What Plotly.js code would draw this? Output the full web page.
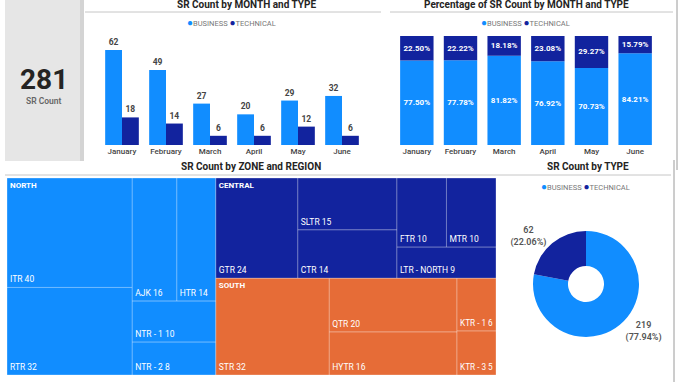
<!DOCTYPE html>
<html>
<head>
<meta charset="utf-8">
<script src="https://cdn.plot.ly/plotly-3.0.1.min.js"></script>
<style>html,body{margin:0;padding:0;background:#fff;}#chart{width:680px;height:382px;}</style>
</head>
<body>
<div id="chart"></div>
<script>
// ---- data ----
const months = ['January', 'February', 'March', 'April', 'May', 'June'];
const businessCounts = [62, 49, 27, 20, 29, 32];
const technicalCounts = [18, 14, 6, 6, 12, 6];
const businessPct = [77.50, 77.78, 81.82, 76.92, 70.73, 84.21];
const technicalPct = [22.50, 22.22, 18.18, 23.08, 29.27, 15.79];
const typeNames = ['BUSINESS', 'TECHNICAL'];
const typeTotals = [219, 62];
const srTotal = 281;
const zones = ['NORTH', 'CENTRAL', 'SOUTH'];
const regions = ['ITR', 'RTR', 'AJK', 'HTR', 'NTR - 1', 'NTR - 2',
                 'GTR', 'SLTR', 'CTR', 'FTR', 'MTR', 'LTR - NORTH',
                 'STR', 'QTR', 'HYTR', 'KTR - 1', 'KTR - 3'];
const regionZones = ['NORTH', 'NORTH', 'NORTH', 'NORTH', 'NORTH', 'NORTH',
                     'CENTRAL', 'CENTRAL', 'CENTRAL', 'CENTRAL', 'CENTRAL', 'CENTRAL',
                     'SOUTH', 'SOUTH', 'SOUTH', 'SOUTH', 'SOUTH'];
const regionCounts = [40, 32, 16, 14, 10, 8, 24, 15, 14, 10, 10, 9, 32, 20, 16, 6, 5];

// ---- style ----
const typeColors = ['#118DFF', '#12239E'];
const zoneColors = {NORTH: '#118DFF', CENTRAL: '#12239E', SOUTH: '#E66C37'};
const FONT = 'Roboto, "Open Sans", sans-serif';
const W = 680, H = 382;
const px = x => x / W;
const py = y => 1 - y / H;

// ---- treemap arrays ----
const tmIds = [], tmLabels = [], tmParents = [], tmValues = [], tmColors = [], tmTemplates = [];
zones.forEach(z => {
  tmIds.push(z); tmLabels.push(z); tmParents.push(''); tmValues.push(0);
  tmColors.push(zoneColors[z]); tmTemplates.push('');
});
regions.forEach((r, i) => {
  tmIds.push(regionZones[i] + '/' + r); tmLabels.push(r); tmParents.push(regionZones[i]);
  tmValues.push(regionCounts[i]); tmColors.push(zoneColors[regionZones[i]]);
  tmTemplates.push('%{label} %{value}');
});
const zoneTotals = zones.map(z => regionCounts.reduce((s, v, i) => s + (regionZones[i] === z ? v : 0), 0));

const traces = [
  {type: 'bar', x: months, y: businessCounts, name: typeNames[0], xaxis: 'x', yaxis: 'y',
   offsetgroup: 'b', marker: {color: typeColors[0]}, texttemplate: '%{y}', textposition: 'outside',
   textfont: {family: FONT, size: 8.5, color: '#444', weight: 700}, cliponaxis: false, showlegend: false},
  {type: 'bar', x: months, y: technicalCounts, name: typeNames[1], xaxis: 'x', yaxis: 'y',
   offsetgroup: 't', marker: {color: typeColors[1]}, texttemplate: '%{y}', textposition: 'outside',
   textfont: {family: FONT, size: 8.5, color: '#444', weight: 700}, cliponaxis: false, showlegend: false},
  {type: 'bar', x: months, y: businessPct, name: typeNames[0], xaxis: 'x2', yaxis: 'y2',
   offsetgroup: 'p', marker: {color: typeColors[0]}, texttemplate: '%{y:.2f}%', textposition: 'inside',
   insidetextanchor: 'middle', textangle: 0,
   textfont: {family: FONT, size: 8, color: '#ffffff', weight: 700}, showlegend: false},
  {type: 'bar', x: months, y: technicalPct, base: businessPct, name: typeNames[1], xaxis: 'x2', yaxis: 'y2',
   offsetgroup: 'p', marker: {color: typeColors[1]}, texttemplate: '%{y:.2f}%', textposition: 'inside',
   insidetextanchor: 'middle', textangle: 0,
   textfont: {family: FONT, size: 8, color: '#ffffff', weight: 700}, showlegend: false},
  {type: 'treemap', ids: tmIds, labels: tmLabels, parents: tmParents, values: tmValues,
   domain: {x: [px(7), px(496)], y: [py(375), py(178)]},
   marker: {colors: tmColors, pad: {t: 0, l: 0, r: 0, b: 0}, line: {color: 'rgba(255,255,255,0.3)', width: 1}},
   tiling: {squarifyratio: 1.618, pad: 0}, pathbar: {visible: false},
   textinfo: 'none', texttemplate: tmTemplates, textposition: 'bottom left',
   textfont: {family: FONT, size: 8.5, color: '#ffffff'}, hoverinfo: 'skip', sort: true},
  {type: 'treemap', labels: zones, parents: zones.map(() => ''), values: zoneTotals,
   domain: {x: [px(7), px(496)], y: [py(375), py(178)]},
   marker: {colors: zones.map(() => 'rgba(0,0,0,0)'), pad: {t: 0, l: 0, r: 0, b: 0}, line: {width: 0}},
   tiling: {squarifyratio: 1.618, pad: 0}, pathbar: {visible: false},
   texttemplate: '<b>%{label}</b>', textposition: 'top left',
   textfont: {family: FONT, size: 8, color: '#ffffff'}, hoverinfo: 'skip', sort: true},
  {type: 'pie', labels: typeNames, values: typeTotals, hole: 0.34, sort: false, direction: 'clockwise',
   rotation: 0, marker: {colors: typeColors, line: {width: 0}},
   domain: {x: [px(533), px(639)], y: [py(337), py(231)]},
   textposition: 'outside', texttemplate: '%{value}<br>(%{percent:.2%})',
   textfont: {family: FONT, size: 9, color: '#555', weight: 600}, showlegend: false}
];

function legendText() {
  return typeNames.map((n, i) => '<span style="color:' + typeColors[i] + ';font-size:10px">●</span>' + n).join(' ');
}
const legendFont = {family: FONT, size: 7.5, color: '#777'};
const titleFont = {family: FONT, size: 10, color: '#252423', weight: 700};
function ann(text, x, y, font) {
  return {text: text, x: px(x), y: py(y), xref: 'paper', yref: 'paper', showarrow: false,
          xanchor: 'center', yanchor: 'middle', font: font};
}

const annotations = [
  ann(String(srTotal), 44, 79, {family: FONT, size: 28, color: '#252423', weight: 700}),
  ann('SR Count', 44, 101, {family: FONT, size: 8.5, color: '#666', weight: 600}),
  ann('SR Count by MONTH and TYPE', 246, 5, titleFont),
  ann('Percentage of SR Count by MONTH and TYPE', 526, 5, titleFont),
  ann('SR Count by ZONE and REGION', 251, 166, titleFont),
  ann('SR Count by TYPE', 588, 166, titleFont),
  ann(legendText(), 231, 23, legendFont),
  ann(legendText(), 525, 23, legendFont),
  ann(legendText(), 585, 186, legendFont)
];

const lineStyle = {color: '#c6c6c6', width: 1};
const shapes = [
  {type: 'rect', xref: 'paper', yref: 'paper', x0: px(5), x1: px(84), y0: py(161), y1: py(0),
   fillcolor: '#e6e6e6', line: {width: 0}, layer: 'below'},
  {type: 'rect', xref: 'paper', yref: 'paper', x0: px(80), x1: px(84), y0: py(161), y1: py(0),
   fillcolor: '#d4d4d4', line: {width: 0}, layer: 'below'},
  {type: 'line', xref: 'paper', yref: 'paper', x0: px(85), x1: px(381), y0: py(12), y1: py(12), line: lineStyle},
  {type: 'line', xref: 'paper', yref: 'paper', x0: px(390), x1: px(673), y0: py(12), y1: py(12), line: lineStyle},
  {type: 'line', xref: 'paper', yref: 'paper', x0: px(5), x1: px(497), y0: py(175), y1: py(175), line: lineStyle},
  {type: 'line', xref: 'paper', yref: 'paper', x0: px(497), x1: px(671), y0: py(175), y1: py(175), line: lineStyle},
  {type: 'line', xref: 'paper', yref: 'paper', x0: px(677), x1: px(677), y0: py(0), y1: py(170), line: {color: '#9a9a9a', width: 1}},
  {type: 'line', xref: 'paper', yref: 'paper', x0: px(674), x1: px(674), y0: py(160), y1: py(382), line: {color: '#9a9a9a', width: 1}}
];

const axisX = {showgrid: false, zeroline: false, showline: false, ticks: '', fixedrange: true,
  tickfont: {family: FONT, size: 8, color: '#444', weight: 500}};
const layout = {
  width: W, height: H, margin: {l: 0, r: 0, t: 0, b: 0},
  paper_bgcolor: '#ffffff', plot_bgcolor: 'rgba(0,0,0,0)',
  barmode: 'group', bargap: 0.235, bargroupgap: 0,
  showlegend: false,
  xaxis: Object.assign({domain: [px(100), px(364)], anchor: 'y'}, axisX),
  yaxis: {domain: [py(145), py(40)], range: [0, 68.5], visible: false, fixedrange: true},
  xaxis2: Object.assign({domain: [px(395), px(657)], anchor: 'y2'}, axisX),
  yaxis2: {domain: [py(145), py(36)], range: [0, 100], visible: false, fixedrange: true},
  annotations: annotations, shapes: shapes,
  font: {family: FONT}
};
Plotly.newPlot('chart', traces, layout, {staticPlot: true, displayModeBar: false});
</script>
</body>
</html>
